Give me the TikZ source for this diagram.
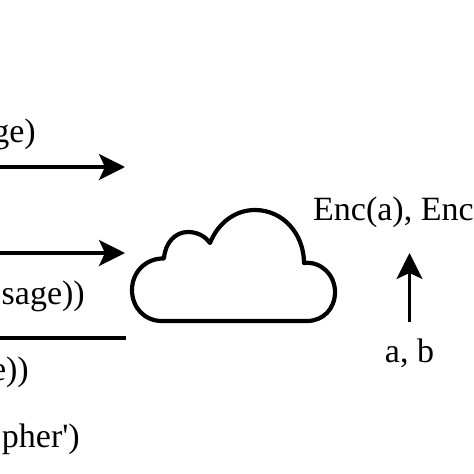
\documentclass[tikz,border=0pt]{standalone}
\usepackage{fontspec}
\setmainfont{Liberation Serif}
\usetikzlibrary{arrows.meta}

\begin{document}
\begin{tikzpicture}[x=1pt, y=-1pt, >={Stealth[length=26pt, width=26pt, inset=6pt]},
    msgarrow/.style={->, line width=3.3pt, black},
    label/.style={inner sep=0pt, font=\fontsize{34}{34}\selectfont},
    cloudline/.style={line width=4.2pt, line join=round, black}]
  \useasboundingbox (0,0) rectangle (474,474);
  %--- Coordinates
  \coordinate (A1) at (-3,167);
  \coordinate (B1) at (125,167);
  \coordinate (A2) at (-3,253);
  \coordinate (B2) at (125,253);
  \coordinate (A3) at (-3,338);
  \coordinate (B3) at (126,338);
  \coordinate (Up1) at (409.5,322);
  \coordinate (Up2) at (409.5,253);
  %--- Left labels
  \node[label, anchor=base east] (lblone) at (36,142) {ge)};
  \node[label, anchor=base east] (lbltwo) at (85,304) {sage))};
  \node[label, anchor=base east] (lblthree) at (29,380) {e))};
  \node[label, anchor=base east] (lblfour) at (80,447) {pher\textquotesingle)};
  %--- Right labels
  \node[label, anchor=base west] (lblenc) at (313,220) {Enc(a), Enc};
  \node[label, anchor=base] (lblab) at (409.5,362) {a, b};
  %--- Arrows and rule
  \draw[msgarrow] (A1) -- (B1);
  \draw[msgarrow] (A2) -- (B2);
  \draw[line width=3.3pt] (A3) -- (B3);
  \draw[->, line width=2.7pt] (Up1) -- (Up2);
  %--- Cloud
  \draw[cloudline] (162,321)
    .. controls (144,321) and (132,307) .. (132,290)
    .. controls (132,272) and (146,258) .. (164,258.5)
    .. controls (165,243) and (175,232) .. (188,232)
    .. controls (197,232) and (205,236) .. (210,243)
    .. controls (218,223) and (235,210) .. (255,210)
    .. controls (283,210) and (304,234) .. (304,263)
    .. controls (321,261) and (335,275) .. (335,292)
    .. controls (335,309) and (323,321) .. (307,321)
    -- cycle;
\end{tikzpicture}
\end{document}
